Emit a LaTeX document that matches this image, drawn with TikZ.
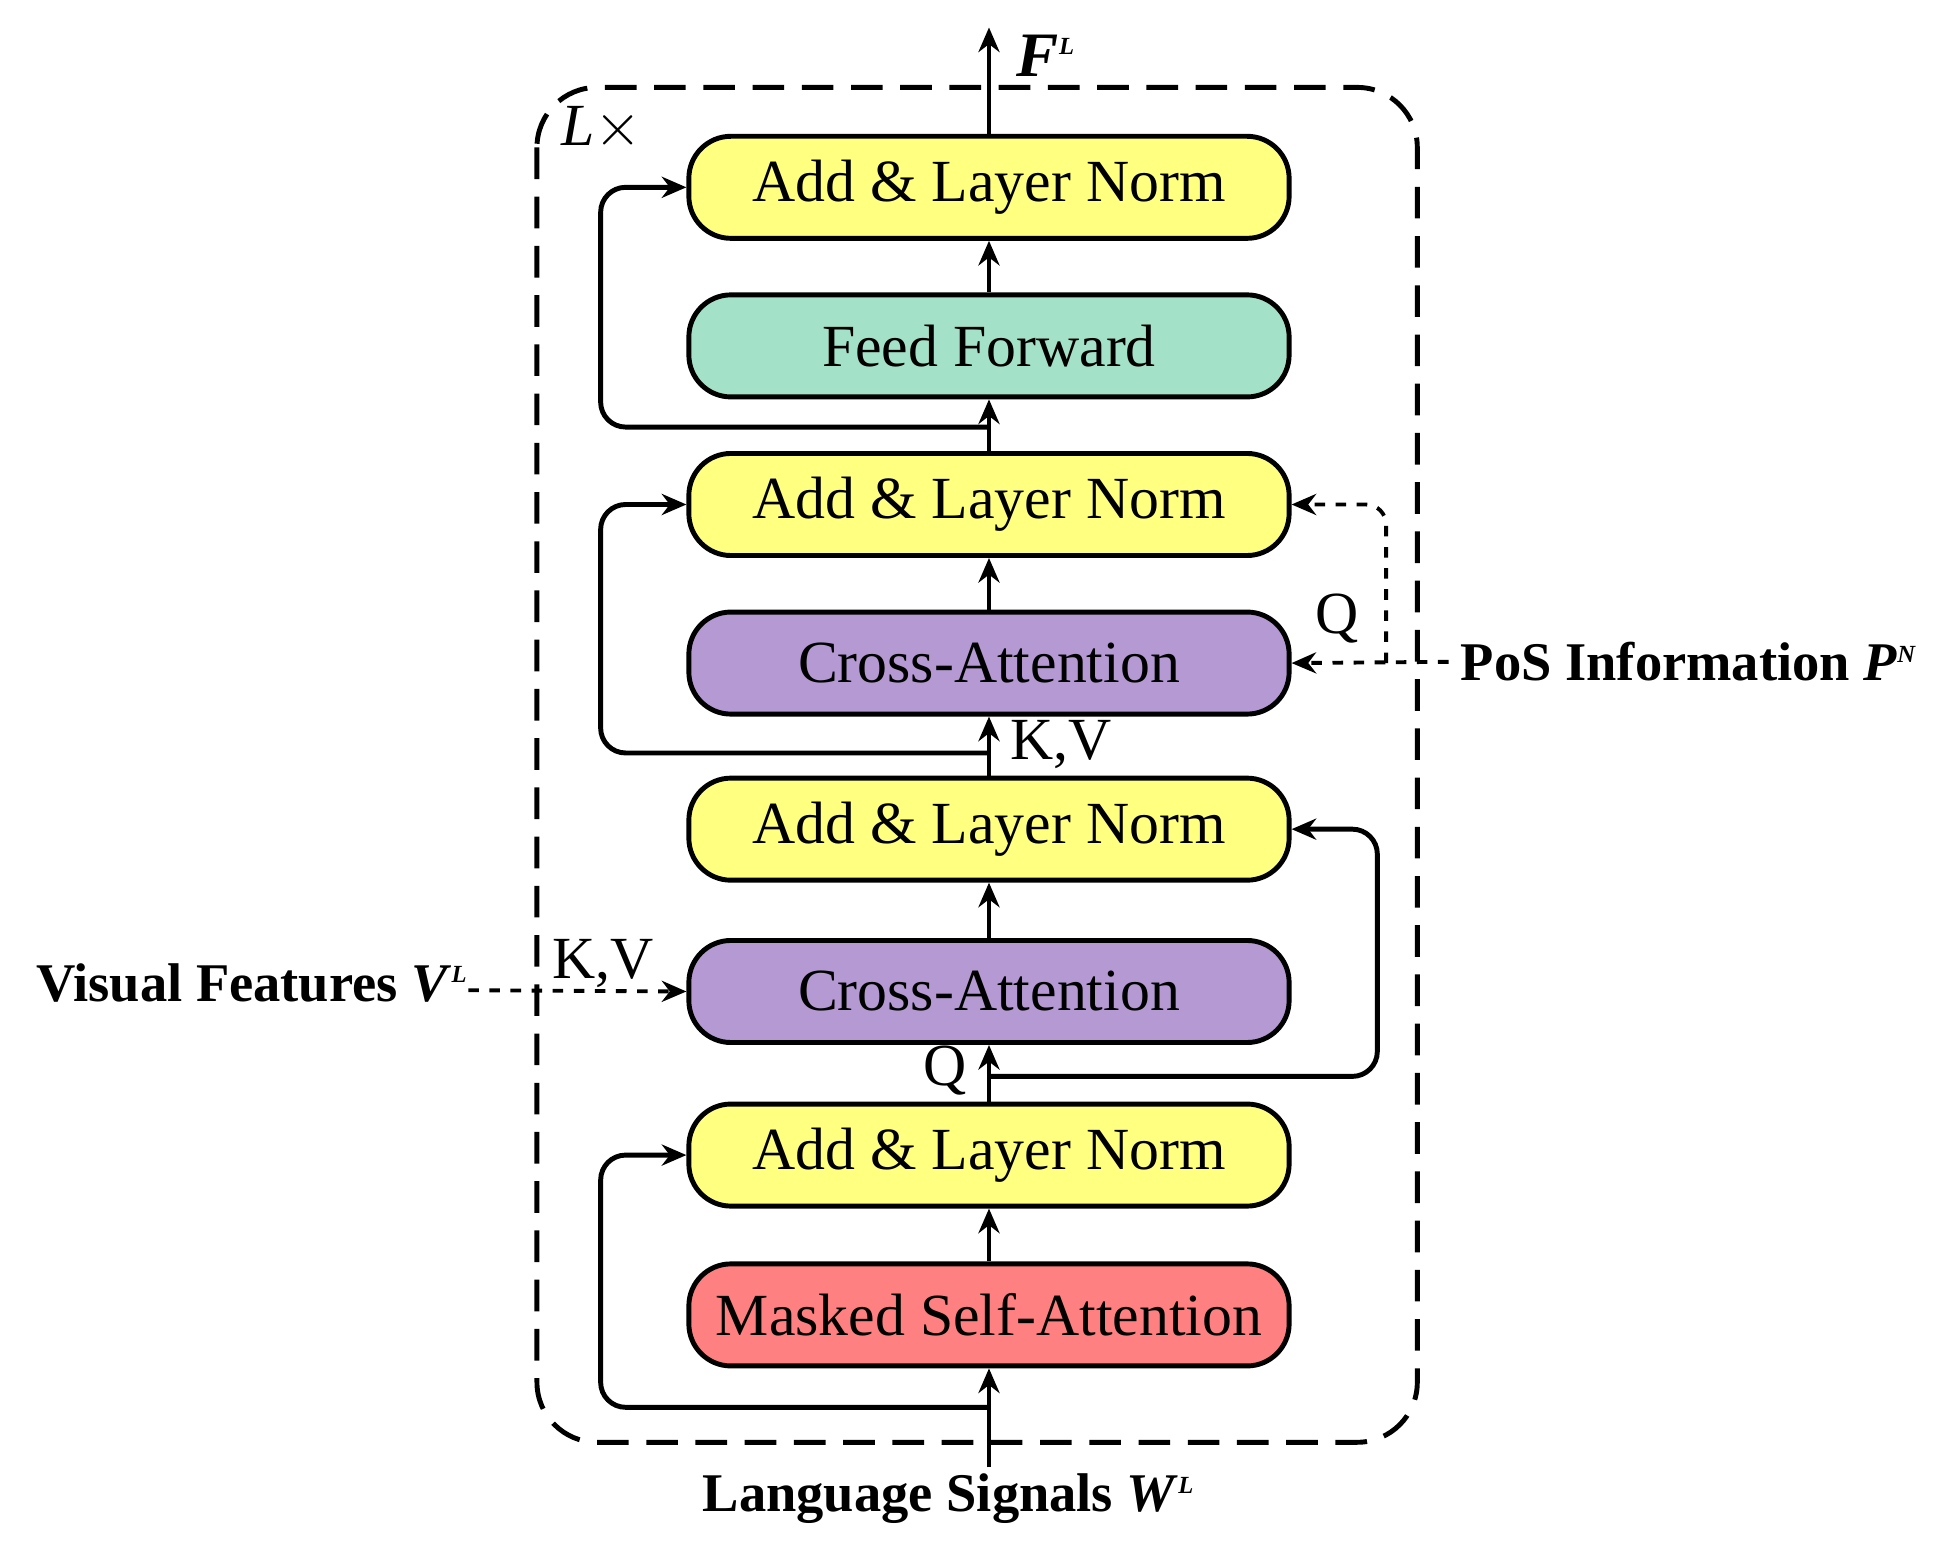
\documentclass[tikz,border=0pt]{standalone}
\usepackage{fontspec}
\setmainfont{Liberation Serif}
\usetikzlibrary{arrows.meta}
\definecolor{normc}{HTML}{FFFF80}
\definecolor{ffc}{HTML}{A3E2C8}
\definecolor{crossc}{HTML}{B499D2}
\definecolor{maskc}{HTML}{FF8080}
\newcommand{\supit}[1]{\textsuperscript{\scriptsize\textit{#1}}}
\begin{document}
\begin{tikzpicture}[x=0.012487cm,y=-0.012487cm,
  blk/.style={draw,line width=1.4pt,rounded corners=0.42cm,minimum width=6.0cm,minimum height=1.02cm,font=\fontsize{17}{20}\selectfont},
  arr/.style={line width=1.4pt,-{Stealth[length=7pt,width=6pt]}},
  dsh/.style={arr,line width=1.1pt,dash pattern=on 3pt off 3pt},
  lab/.style={font=\fontsize{15.5}{18}\selectfont\bfseries},
  sm/.style={font=\fontsize{17}{20}\selectfont}]
\useasboundingbox (0,0) rectangle (1568,1240);
\draw[line width=1.4pt,dash pattern=on 9pt off 5pt,rounded corners=0.6cm] (430,70) rectangle (1135,1155);
\node[sm] (lx) at (482,103) {\textit{L}$\times$};
\node[blk,fill=normc] (n1) at (792,150) {Add \& Layer Norm};
\node[blk,fill=ffc] (ff) at (792,277) {Feed Forward};
\node[blk,fill=normc] (n2) at (792,404) {Add \& Layer Norm};
\node[blk,fill=crossc] (c2) at (792,531) {Cross-Attention};
\node[blk,fill=normc] (n3) at (792,664) {Add \& Layer Norm};
\node[blk,fill=crossc] (c1) at (792,794) {Cross-Attention};
\node[blk,fill=normc] (n4) at (792,925) {Add \& Layer Norm};
\node[blk,fill=maskc] (ms) at (792,1053) {Masked Self-Attention};
\coordinate (top) at (792,22);
\coordinate (bot) at (792,1175);
\node[lab,font=\fontsize{18}{20}\selectfont\bfseries] (fl) at (838,45) {\textit{F}\supit{L}};
\node[lab] (ls) at (760,1200) {Language Signals \textit{W}\supit{L}};
\node[lab,anchor=east] (vf) at (385,787) {Visual Features \textit{V}\supit{L}};
\node[lab,anchor=west] (pos) at (1160,530) {PoS Information \textit{P}\supit{N}};
\node[sm] (kv1) at (483,772) {K,V};
\node[sm] (q1) at (757,857) {Q};
\node[sm] (kv2) at (850,596) {K,V};
\node[sm] (q2) at (1071,495) {Q};
% main stack
\draw[arr] (bot) -- (ms.south);
\draw[arr] (ms) -- (n4);
\draw[arr] (n4) -- (c1);
\draw[arr] (c1) -- (n3);
\draw[arr] (n3) -- (c2);
\draw[arr] (c2) -- (n2);
\draw[arr] (n2) -- (ff);
\draw[arr] (ff) -- (n1);
\draw[arr] (n1) -- (top);
% residuals
\draw[arr,rounded corners=0.25cm] (792,1127) -- (481,1127) -- (481,925) -- (n4.west);
\draw[arr,rounded corners=0.25cm] (792,862) -- (1103,862) -- (1103,664) -- (n3.east);
\draw[arr,rounded corners=0.25cm] (792,603) -- (481,603) -- (481,404) -- (n2.west);
\draw[arr,rounded corners=0.25cm] (792,342) -- (481,342) -- (481,150) -- (n1.west);
% side inputs
\draw[dsh] (vf.east) ++(-10,6) -- (c1.west);
\draw[dsh] (pos.west) -- (c2.east);
\draw[dsh,rounded corners=0.2cm] (1110,531) -- (1110,404) -- (n2.east);
\end{tikzpicture}
\end{document}
